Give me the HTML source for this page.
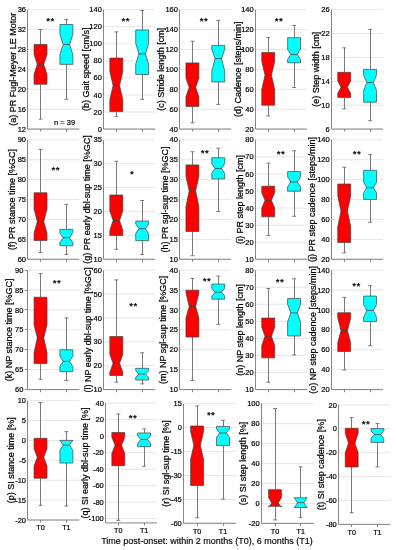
<!DOCTYPE html>
<html><head><meta charset="utf-8"><title>Boxplots</title>
<style>
html,body{margin:0;padding:0;background:#fff;}
body{width:397px;height:550px;overflow:hidden;}
svg{display:block;}
text{font-family:"Liberation Sans",Arial,sans-serif;fill:#000;}
.tk{font-size:7.5px;text-anchor:end;stroke:#000;stroke-width:0.2px;}
.xt{font-size:7.2px;text-anchor:middle;stroke:#000;stroke-width:0.2px;}
.xl{font-size:9px;text-anchor:middle;stroke:#000;stroke-width:0.15px;}
.yl{font-size:9.0px;text-anchor:middle;stroke:#000;stroke-width:0.22px;}
.st{font-size:9.8px;text-anchor:middle;letter-spacing:0.4px;stroke:#000;stroke-width:0.25px;}
.g{stroke:#dedede;stroke-width:0.8;}
.ax{stroke:#787878;stroke-width:0.9;fill:none;}
.w{stroke:#6a6a6a;stroke-width:0.9;}
.m{stroke:#404040;stroke-width:0.75;}
.r{fill:#ff0000;stroke:#404040;stroke-width:0.7;}
.c{fill:#00ffff;stroke:#404040;stroke-width:0.7;}
</style></head><body>
<svg width="397" height="550" viewBox="0 0 397 550">
<line class="g" x1="27.6" y1="129.1" x2="79.3" y2="129.1"/>
<line class="g" x1="27.6" y1="109.18" x2="79.3" y2="109.18"/>
<line class="g" x1="27.6" y1="89.27" x2="79.3" y2="89.27"/>
<line class="g" x1="27.6" y1="69.35" x2="79.3" y2="69.35"/>
<line class="g" x1="27.6" y1="49.43" x2="79.3" y2="49.43"/>
<line class="g" x1="27.6" y1="29.52" x2="79.3" y2="29.52"/>
<line class="g" x1="27.6" y1="9.6" x2="79.3" y2="9.6"/>
<line class="w" x1="40.5" y1="44.45" x2="40.5" y2="29.52"/>
<line class="w" x1="40.5" y1="84.29" x2="40.5" y2="119.14"/>
<line class="w" x1="38.63" y1="29.52" x2="42.43" y2="29.52"/>
<line class="w" x1="38.63" y1="119.14" x2="42.43" y2="119.14"/>
<polygon class="r" points="34.06,84.29 34.06,74.33 37.29,64.37 34.06,54.41 34.06,44.45 46.99,44.45 46.99,54.41 43.76,64.37 46.99,74.33 46.99,84.29"/>
<line class="m" x1="37.29" y1="64.37" x2="43.76" y2="64.37"/>
<line class="w" x1="66.5" y1="24.54" x2="66.5" y2="19.56"/>
<line class="w" x1="66.5" y1="64.37" x2="66.5" y2="99.22"/>
<line class="w" x1="64.47" y1="19.56" x2="68.28" y2="19.56"/>
<line class="w" x1="64.47" y1="99.22" x2="68.28" y2="99.22"/>
<polygon class="c" points="59.91,64.37 59.91,54.41 63.14,44.45 59.91,34.5 59.91,24.54 72.84,24.54 72.84,34.5 69.61,44.45 72.84,54.41 72.84,64.37"/>
<line class="m" x1="63.14" y1="44.45" x2="69.61" y2="44.45"/>
<path class="ax" d="M27.5 9.6V129.1H79.3"/>
<line class="ax" x1="40.5" y1="129.1" x2="40.5" y2="131.7"/>
<line class="ax" x1="66.5" y1="129.1" x2="66.5" y2="131.7"/>
<text class="tk" transform="translate(26 131.7)">12</text>
<text class="tk" transform="translate(26 111.78)">16</text>
<text class="tk" transform="translate(26 91.87)">20</text>
<text class="tk" transform="translate(26 71.95)">24</text>
<text class="tk" transform="translate(26 52.03)">28</text>
<text class="tk" transform="translate(26 32.12)">32</text>
<text class="tk" transform="translate(26 12.2)">36</text>
<text class="yl" transform="translate(15.6,69.35) rotate(-90)">(a) PR Fugl-Meyer LE Motor</text>
<text class="st" x="50.5" y="23.6">**</text>
<text class="tk" transform="translate(54 125.1)" style="text-anchor:start">n = 39</text>
<line class="g" x1="103.4" y1="129.1" x2="155.1" y2="129.1"/>
<line class="g" x1="103.4" y1="112.03" x2="155.1" y2="112.03"/>
<line class="g" x1="103.4" y1="94.96" x2="155.1" y2="94.96"/>
<line class="g" x1="103.4" y1="77.89" x2="155.1" y2="77.89"/>
<line class="g" x1="103.4" y1="60.81" x2="155.1" y2="60.81"/>
<line class="g" x1="103.4" y1="43.74" x2="155.1" y2="43.74"/>
<line class="g" x1="103.4" y1="26.67" x2="155.1" y2="26.67"/>
<line class="g" x1="103.4" y1="9.6" x2="155.1" y2="9.6"/>
<line class="w" x1="116.5" y1="58.08" x2="116.5" y2="31.88"/>
<line class="w" x1="116.5" y1="111.6" x2="116.5" y2="116.38"/>
<line class="w" x1="114.43" y1="31.88" x2="118.23" y2="31.88"/>
<line class="w" x1="114.43" y1="116.38" x2="118.23" y2="116.38"/>
<polygon class="r" points="109.86,111.6 109.86,99.48 113.09,85.57 109.86,71.57 109.86,58.08 122.79,58.08 122.79,71.57 119.56,85.57 122.79,99.48 122.79,111.6"/>
<line class="m" x1="113.09" y1="85.57" x2="119.56" y2="85.57"/>
<line class="w" x1="142.5" y1="29.91" x2="142.5" y2="10.45"/>
<line class="w" x1="142.5" y1="74.47" x2="142.5" y2="99.31"/>
<line class="w" x1="140.28" y1="10.45" x2="144.08" y2="10.45"/>
<line class="w" x1="140.28" y1="99.31" x2="144.08" y2="99.31"/>
<polygon class="c" points="135.71,74.47 135.71,64.14 138.94,53.9 135.71,43.4 135.71,29.91 148.64,29.91 148.64,43.4 145.41,53.9 148.64,64.14 148.64,74.47"/>
<line class="m" x1="138.94" y1="53.9" x2="145.41" y2="53.9"/>
<path class="ax" d="M103.5 9.6V129.1H155.1"/>
<line class="ax" x1="116.5" y1="129.1" x2="116.5" y2="131.7"/>
<line class="ax" x1="142.5" y1="129.1" x2="142.5" y2="131.7"/>
<text class="tk" transform="translate(101.8 131.7)">0</text>
<text class="tk" transform="translate(101.8 114.63)">20</text>
<text class="tk" transform="translate(101.8 97.56)">40</text>
<text class="tk" transform="translate(101.8 80.49)">60</text>
<text class="tk" transform="translate(101.8 63.41)">80</text>
<text class="tk" transform="translate(101.8 46.34)">100</text>
<text class="tk" transform="translate(101.8 29.27)">120</text>
<text class="tk" transform="translate(101.8 12.2)">140</text>
<text class="yl" transform="translate(88.7,69.35) rotate(-90)">(b) Gait speed [cm/s]</text>
<text class="st" x="125.8" y="23.8">**</text>
<line class="g" x1="179.5" y1="129.1" x2="231.2" y2="129.1"/>
<line class="g" x1="179.5" y1="109.18" x2="231.2" y2="109.18"/>
<line class="g" x1="179.5" y1="89.27" x2="231.2" y2="89.27"/>
<line class="g" x1="179.5" y1="69.35" x2="231.2" y2="69.35"/>
<line class="g" x1="179.5" y1="49.43" x2="231.2" y2="49.43"/>
<line class="g" x1="179.5" y1="29.52" x2="231.2" y2="29.52"/>
<line class="g" x1="179.5" y1="9.6" x2="231.2" y2="9.6"/>
<line class="w" x1="192.5" y1="62.88" x2="192.5" y2="41.27"/>
<line class="w" x1="192.5" y1="106.49" x2="192.5" y2="122.73"/>
<line class="w" x1="190.53" y1="41.27" x2="194.33" y2="41.27"/>
<line class="w" x1="190.53" y1="122.73" x2="194.33" y2="122.73"/>
<polygon class="r" points="185.96,106.49 185.96,96.64 189.19,87.37 185.96,78.31 185.96,62.88 198.89,62.88 198.89,78.31 195.66,87.37 198.89,96.64 198.89,106.49"/>
<line class="m" x1="189.19" y1="87.37" x2="195.66" y2="87.37"/>
<line class="w" x1="218.5" y1="45.45" x2="218.5" y2="20.45"/>
<line class="w" x1="218.5" y1="82" x2="218.5" y2="104.4"/>
<line class="w" x1="216.37" y1="20.45" x2="220.17" y2="20.45"/>
<line class="w" x1="216.37" y1="104.4" x2="220.17" y2="104.4"/>
<polygon class="c" points="211.81,82 211.81,71.34 215.04,58.6 211.81,49.43 211.81,45.45 224.74,45.45 224.74,49.43 221.51,58.6 224.74,71.34 224.74,82"/>
<line class="m" x1="215.04" y1="58.6" x2="221.51" y2="58.6"/>
<path class="ax" d="M179.5 9.6V129.1H231.2"/>
<line class="ax" x1="192.5" y1="129.1" x2="192.5" y2="131.7"/>
<line class="ax" x1="218.5" y1="129.1" x2="218.5" y2="131.7"/>
<text class="tk" transform="translate(177.9 131.7)">40</text>
<text class="tk" transform="translate(177.9 111.78)">60</text>
<text class="tk" transform="translate(177.9 91.87)">80</text>
<text class="tk" transform="translate(177.9 71.95)">100</text>
<text class="tk" transform="translate(177.9 52.03)">120</text>
<text class="tk" transform="translate(177.9 32.12)">140</text>
<text class="tk" transform="translate(177.9 12.2)">160</text>
<text class="yl" transform="translate(164.2,69.35) rotate(-90)">(c) Stride length [cm]</text>
<text class="st" x="204" y="24">**</text>
<line class="g" x1="255.3" y1="129.1" x2="307" y2="129.1"/>
<line class="g" x1="255.3" y1="109.18" x2="307" y2="109.18"/>
<line class="g" x1="255.3" y1="89.27" x2="307" y2="89.27"/>
<line class="g" x1="255.3" y1="69.35" x2="307" y2="69.35"/>
<line class="g" x1="255.3" y1="49.43" x2="307" y2="49.43"/>
<line class="g" x1="255.3" y1="29.52" x2="307" y2="29.52"/>
<line class="g" x1="255.3" y1="9.6" x2="307" y2="9.6"/>
<line class="w" x1="268.5" y1="52.62" x2="268.5" y2="37.48"/>
<line class="w" x1="268.5" y1="105.2" x2="268.5" y2="115.86"/>
<line class="w" x1="266.33" y1="37.48" x2="270.12" y2="37.48"/>
<line class="w" x1="266.33" y1="115.86" x2="270.12" y2="115.86"/>
<polygon class="r" points="261.76,105.2 261.76,89.57 264.99,75.32 261.76,61.28 261.76,52.62 274.69,52.62 274.69,61.28 271.46,75.32 274.69,89.57 274.69,105.2"/>
<line class="m" x1="264.99" y1="75.32" x2="271.46" y2="75.32"/>
<line class="w" x1="294.5" y1="37.68" x2="294.5" y2="25.53"/>
<line class="w" x1="294.5" y1="62.78" x2="294.5" y2="87.47"/>
<line class="w" x1="292.18" y1="25.53" x2="295.97" y2="25.53"/>
<line class="w" x1="292.18" y1="87.47" x2="295.97" y2="87.47"/>
<polygon class="c" points="287.61,62.78 287.61,59.39 290.84,54.41 287.61,49.43 287.61,37.68 300.54,37.68 300.54,49.43 297.31,54.41 300.54,59.39 300.54,62.78"/>
<line class="m" x1="290.84" y1="54.41" x2="297.31" y2="54.41"/>
<path class="ax" d="M255.5 9.6V129.1H307"/>
<line class="ax" x1="268.5" y1="129.1" x2="268.5" y2="131.7"/>
<line class="ax" x1="294.5" y1="129.1" x2="294.5" y2="131.7"/>
<text class="tk" transform="translate(253.7 131.7)">20</text>
<text class="tk" transform="translate(253.7 111.78)">40</text>
<text class="tk" transform="translate(253.7 91.87)">60</text>
<text class="tk" transform="translate(253.7 71.95)">80</text>
<text class="tk" transform="translate(253.7 52.03)">100</text>
<text class="tk" transform="translate(253.7 32.12)">120</text>
<text class="tk" transform="translate(253.7 12.2)">140</text>
<text class="yl" transform="translate(240.6,69.35) rotate(-90)">(d) Cadence [steps/min]</text>
<text class="st" x="279" y="23.6">**</text>
<line class="g" x1="331.3" y1="129.1" x2="383" y2="129.1"/>
<line class="g" x1="331.3" y1="105.2" x2="383" y2="105.2"/>
<line class="g" x1="331.3" y1="81.3" x2="383" y2="81.3"/>
<line class="g" x1="331.3" y1="57.4" x2="383" y2="57.4"/>
<line class="g" x1="331.3" y1="33.5" x2="383" y2="33.5"/>
<line class="g" x1="331.3" y1="9.6" x2="383" y2="9.6"/>
<line class="w" x1="344.5" y1="72.34" x2="344.5" y2="47.84"/>
<line class="w" x1="344.5" y1="97.43" x2="344.5" y2="108.79"/>
<line class="w" x1="342.33" y1="47.84" x2="346.12" y2="47.84"/>
<line class="w" x1="342.33" y1="108.79" x2="346.12" y2="108.79"/>
<polygon class="r" points="337.76,97.43 337.76,93.25 340.99,87.27 337.76,81 337.76,72.34 350.69,72.34 350.69,81 347.46,87.27 350.69,93.25 350.69,97.43"/>
<line class="m" x1="340.99" y1="87.27" x2="347.46" y2="87.27"/>
<line class="w" x1="370.5" y1="69.35" x2="370.5" y2="29.32"/>
<line class="w" x1="370.5" y1="102.21" x2="370.5" y2="120.74"/>
<line class="w" x1="368.18" y1="29.32" x2="371.97" y2="29.32"/>
<line class="w" x1="368.18" y1="120.74" x2="371.97" y2="120.74"/>
<polygon class="c" points="363.61,102.21 363.61,90.26 366.84,82.49 363.61,75.32 363.61,69.35 376.54,69.35 376.54,75.32 373.31,82.49 376.54,90.26 376.54,102.21"/>
<line class="m" x1="366.84" y1="82.49" x2="373.31" y2="82.49"/>
<path class="ax" d="M331.5 9.6V129.1H383"/>
<line class="ax" x1="344.5" y1="129.1" x2="344.5" y2="131.7"/>
<line class="ax" x1="370.5" y1="129.1" x2="370.5" y2="131.7"/>
<text class="tk" transform="translate(329.7 131.7)">6</text>
<text class="tk" transform="translate(329.7 107.8)">10</text>
<text class="tk" transform="translate(329.7 83.9)">14</text>
<text class="tk" transform="translate(329.7 60)">18</text>
<text class="tk" transform="translate(329.7 36.1)">22</text>
<text class="tk" transform="translate(329.7 12.2)">26</text>
<text class="yl" transform="translate(318.9,69.35) rotate(-90)">(e) Step width [cm]</text>
<line class="g" x1="27.6" y1="259.3" x2="79.3" y2="259.3"/>
<line class="g" x1="27.6" y1="239.38" x2="79.3" y2="239.38"/>
<line class="g" x1="27.6" y1="219.47" x2="79.3" y2="219.47"/>
<line class="g" x1="27.6" y1="199.55" x2="79.3" y2="199.55"/>
<line class="g" x1="27.6" y1="179.63" x2="79.3" y2="179.63"/>
<line class="g" x1="27.6" y1="159.72" x2="79.3" y2="159.72"/>
<line class="g" x1="27.6" y1="139.8" x2="79.3" y2="139.8"/>
<line class="w" x1="40.5" y1="192.78" x2="40.5" y2="149.36"/>
<line class="w" x1="40.5" y1="240.58" x2="40.5" y2="252.53"/>
<line class="w" x1="38.63" y1="149.36" x2="42.43" y2="149.36"/>
<line class="w" x1="38.63" y1="252.53" x2="42.43" y2="252.53"/>
<polygon class="r" points="34.06,240.58 34.06,233.01 37.29,221.46 34.06,209.11 34.06,192.78 46.99,192.78 46.99,209.11 43.76,221.46 46.99,233.01 46.99,240.58"/>
<line class="m" x1="37.29" y1="221.46" x2="43.76" y2="221.46"/>
<line class="w" x1="66.5" y1="229.43" x2="66.5" y2="204.33"/>
<line class="w" x1="66.5" y1="245.76" x2="66.5" y2="254.52"/>
<line class="w" x1="64.47" y1="204.33" x2="68.28" y2="204.33"/>
<line class="w" x1="64.47" y1="254.52" x2="68.28" y2="254.52"/>
<polygon class="c" points="59.91,245.76 59.91,242.57 63.14,237.79 59.91,232.61 59.91,229.43 72.84,229.43 72.84,232.61 69.61,237.79 72.84,242.57 72.84,245.76"/>
<line class="m" x1="63.14" y1="237.79" x2="69.61" y2="237.79"/>
<path class="ax" d="M27.5 139.8V259.3H79.3"/>
<line class="ax" x1="40.5" y1="259.3" x2="40.5" y2="261.9"/>
<line class="ax" x1="66.5" y1="259.3" x2="66.5" y2="261.9"/>
<text class="tk" transform="translate(26 261.9)">60</text>
<text class="tk" transform="translate(26 241.98)">65</text>
<text class="tk" transform="translate(26 222.07)">70</text>
<text class="tk" transform="translate(26 202.15)">75</text>
<text class="tk" transform="translate(26 182.23)">80</text>
<text class="tk" transform="translate(26 162.32)">85</text>
<text class="tk" transform="translate(26 142.4)">90</text>
<text class="yl" transform="translate(15,199.55) rotate(-90)">(f) PR stance time [%GC]</text>
<text class="st" x="55.7" y="173.1">**</text>
<line class="g" x1="103.4" y1="259.3" x2="155.1" y2="259.3"/>
<line class="g" x1="103.4" y1="235.4" x2="155.1" y2="235.4"/>
<line class="g" x1="103.4" y1="211.5" x2="155.1" y2="211.5"/>
<line class="g" x1="103.4" y1="187.6" x2="155.1" y2="187.6"/>
<line class="g" x1="103.4" y1="163.7" x2="155.1" y2="163.7"/>
<line class="g" x1="103.4" y1="139.8" x2="155.1" y2="139.8"/>
<line class="w" x1="116.5" y1="195.01" x2="116.5" y2="161.31"/>
<line class="w" x1="116.5" y1="235.4" x2="116.5" y2="249.26"/>
<line class="w" x1="114.43" y1="161.31" x2="118.23" y2="161.31"/>
<line class="w" x1="114.43" y1="249.26" x2="118.23" y2="249.26"/>
<polygon class="r" points="109.86,235.4 109.86,230.14 113.09,220.58 109.86,211.02 109.86,195.01 122.79,195.01 122.79,211.02 119.56,220.58 122.79,230.14 122.79,235.4"/>
<line class="m" x1="113.09" y1="220.58" x2="119.56" y2="220.58"/>
<line class="w" x1="142.5" y1="221.06" x2="142.5" y2="200.51"/>
<line class="w" x1="142.5" y1="240.66" x2="142.5" y2="254.52"/>
<line class="w" x1="140.28" y1="200.51" x2="144.08" y2="200.51"/>
<line class="w" x1="140.28" y1="254.52" x2="144.08" y2="254.52"/>
<polygon class="c" points="135.71,240.66 135.71,233.49 138.94,228.71 135.71,223.93 135.71,221.06 148.64,221.06 148.64,223.93 145.41,228.71 148.64,233.49 148.64,240.66"/>
<line class="m" x1="138.94" y1="228.71" x2="145.41" y2="228.71"/>
<path class="ax" d="M103.5 139.8V259.3H155.1"/>
<line class="ax" x1="116.5" y1="259.3" x2="116.5" y2="261.9"/>
<line class="ax" x1="142.5" y1="259.3" x2="142.5" y2="261.9"/>
<text class="tk" transform="translate(101.8 261.9)">10</text>
<text class="tk" transform="translate(101.8 238)">15</text>
<text class="tk" transform="translate(101.8 214.1)">20</text>
<text class="tk" transform="translate(101.8 190.2)">25</text>
<text class="tk" transform="translate(101.8 166.3)">30</text>
<text class="tk" transform="translate(101.8 142.4)">35</text>
<text class="yl" transform="translate(90.2,199.55) rotate(-90)">(g) PR early dbl-sup time [%GC]</text>
<text class="st" x="132" y="177">*</text>
<line class="g" x1="179.5" y1="259.3" x2="231.2" y2="259.3"/>
<line class="g" x1="179.5" y1="239.38" x2="231.2" y2="239.38"/>
<line class="g" x1="179.5" y1="219.47" x2="231.2" y2="219.47"/>
<line class="g" x1="179.5" y1="199.55" x2="231.2" y2="199.55"/>
<line class="g" x1="179.5" y1="179.63" x2="231.2" y2="179.63"/>
<line class="g" x1="179.5" y1="159.72" x2="231.2" y2="159.72"/>
<line class="g" x1="179.5" y1="139.8" x2="231.2" y2="139.8"/>
<line class="w" x1="192.5" y1="164.9" x2="192.5" y2="151.75"/>
<line class="w" x1="192.5" y1="231.42" x2="192.5" y2="255.72"/>
<line class="w" x1="190.53" y1="151.75" x2="194.33" y2="151.75"/>
<line class="w" x1="190.53" y1="255.72" x2="194.33" y2="255.72"/>
<polygon class="r" points="185.96,231.42 185.96,206.72 189.19,190.79 185.96,176.45 185.96,164.9 198.89,164.9 198.89,176.45 195.66,190.79 198.89,206.72 198.89,231.42"/>
<line class="m" x1="189.19" y1="190.79" x2="195.66" y2="190.79"/>
<line class="w" x1="218.5" y1="157.73" x2="218.5" y2="148.17"/>
<line class="w" x1="218.5" y1="178.84" x2="218.5" y2="211.5"/>
<line class="w" x1="216.37" y1="148.17" x2="220.17" y2="148.17"/>
<line class="w" x1="216.37" y1="211.5" x2="220.17" y2="211.5"/>
<polygon class="c" points="211.81,178.84 211.81,173.26 215.04,168.48 211.81,163.7 211.81,157.73 224.74,157.73 224.74,163.7 221.51,168.48 224.74,173.26 224.74,178.84"/>
<line class="m" x1="215.04" y1="168.48" x2="221.51" y2="168.48"/>
<path class="ax" d="M179.5 139.8V259.3H231.2"/>
<line class="ax" x1="192.5" y1="259.3" x2="192.5" y2="261.9"/>
<line class="ax" x1="218.5" y1="259.3" x2="218.5" y2="261.9"/>
<text class="tk" transform="translate(177.9 261.9)">10</text>
<text class="tk" transform="translate(177.9 241.98)">15</text>
<text class="tk" transform="translate(177.9 222.07)">20</text>
<text class="tk" transform="translate(177.9 202.15)">25</text>
<text class="tk" transform="translate(177.9 182.23)">30</text>
<text class="tk" transform="translate(177.9 162.32)">35</text>
<text class="tk" transform="translate(177.9 142.4)">40</text>
<text class="yl" transform="translate(167.8,199.55) rotate(-90)">(h) PR sgl-sup time [%GC]</text>
<text class="st" x="205" y="156.1">**</text>
<line class="g" x1="255.3" y1="259.3" x2="307" y2="259.3"/>
<line class="g" x1="255.3" y1="242.23" x2="307" y2="242.23"/>
<line class="g" x1="255.3" y1="225.16" x2="307" y2="225.16"/>
<line class="g" x1="255.3" y1="208.09" x2="307" y2="208.09"/>
<line class="g" x1="255.3" y1="191.01" x2="307" y2="191.01"/>
<line class="g" x1="255.3" y1="173.94" x2="307" y2="173.94"/>
<line class="g" x1="255.3" y1="156.87" x2="307" y2="156.87"/>
<line class="g" x1="255.3" y1="139.8" x2="307" y2="139.8"/>
<line class="w" x1="268.5" y1="186.23" x2="268.5" y2="163.19"/>
<line class="w" x1="268.5" y1="216.79" x2="268.5" y2="235.57"/>
<line class="w" x1="266.33" y1="163.19" x2="270.12" y2="163.19"/>
<line class="w" x1="266.33" y1="235.57" x2="270.12" y2="235.57"/>
<polygon class="r" points="261.76,216.79 261.76,208.09 264.99,200.4 261.76,192.72 261.76,186.23 274.69,186.23 274.69,192.72 271.46,200.4 274.69,208.09 274.69,216.79"/>
<line class="m" x1="264.99" y1="200.4" x2="271.46" y2="200.4"/>
<line class="w" x1="294.5" y1="171.55" x2="294.5" y2="150.73"/>
<line class="w" x1="294.5" y1="191.19" x2="294.5" y2="216.28"/>
<line class="w" x1="292.18" y1="150.73" x2="295.97" y2="150.73"/>
<line class="w" x1="292.18" y1="216.28" x2="295.97" y2="216.28"/>
<polygon class="c" points="287.61,191.19 287.61,186.75 290.84,181.97 287.61,177.02 287.61,171.55 300.54,171.55 300.54,177.02 297.31,181.97 300.54,186.75 300.54,191.19"/>
<line class="m" x1="290.84" y1="181.97" x2="297.31" y2="181.97"/>
<path class="ax" d="M255.5 139.8V259.3H307"/>
<line class="ax" x1="268.5" y1="259.3" x2="268.5" y2="261.9"/>
<line class="ax" x1="294.5" y1="259.3" x2="294.5" y2="261.9"/>
<text class="tk" transform="translate(253.7 261.9)">10</text>
<text class="tk" transform="translate(253.7 244.83)">20</text>
<text class="tk" transform="translate(253.7 227.76)">30</text>
<text class="tk" transform="translate(253.7 210.69)">40</text>
<text class="tk" transform="translate(253.7 193.61)">50</text>
<text class="tk" transform="translate(253.7 176.54)">60</text>
<text class="tk" transform="translate(253.7 159.47)">70</text>
<text class="tk" transform="translate(253.7 142.4)">80</text>
<text class="yl" transform="translate(243.3,199.55) rotate(-90)">(i) PR step length [cm]</text>
<text class="st" x="281" y="156.8">**</text>
<line class="g" x1="331.3" y1="259.3" x2="383" y2="259.3"/>
<line class="g" x1="331.3" y1="239.38" x2="383" y2="239.38"/>
<line class="g" x1="331.3" y1="219.47" x2="383" y2="219.47"/>
<line class="g" x1="331.3" y1="199.55" x2="383" y2="199.55"/>
<line class="g" x1="331.3" y1="179.63" x2="383" y2="179.63"/>
<line class="g" x1="331.3" y1="159.72" x2="383" y2="159.72"/>
<line class="g" x1="331.3" y1="139.8" x2="383" y2="139.8"/>
<line class="w" x1="344.5" y1="184.02" x2="344.5" y2="167.28"/>
<line class="w" x1="344.5" y1="242.47" x2="344.5" y2="252.83"/>
<line class="w" x1="342.33" y1="167.28" x2="346.12" y2="167.28"/>
<line class="w" x1="342.33" y1="252.83" x2="346.12" y2="252.83"/>
<polygon class="r" points="337.76,242.47 337.76,226.64 340.99,211.2 337.76,195.77 337.76,184.02 350.69,184.02 350.69,195.77 347.46,211.2 350.69,226.64 350.69,242.47"/>
<line class="m" x1="340.99" y1="211.2" x2="347.46" y2="211.2"/>
<line class="w" x1="370.5" y1="170.27" x2="370.5" y2="154.64"/>
<line class="w" x1="370.5" y1="199.45" x2="370.5" y2="222.25"/>
<line class="w" x1="368.18" y1="154.64" x2="371.97" y2="154.64"/>
<line class="w" x1="368.18" y1="222.25" x2="371.97" y2="222.25"/>
<polygon class="c" points="363.61,199.45 363.61,192.68 366.84,187.7 363.61,182.32 363.61,170.27 376.54,170.27 376.54,182.32 373.31,187.7 376.54,192.68 376.54,199.45"/>
<line class="m" x1="366.84" y1="187.7" x2="373.31" y2="187.7"/>
<path class="ax" d="M331.5 139.8V259.3H383"/>
<line class="ax" x1="344.5" y1="259.3" x2="344.5" y2="261.9"/>
<line class="ax" x1="370.5" y1="259.3" x2="370.5" y2="261.9"/>
<text class="tk" transform="translate(329.7 261.9)">20</text>
<text class="tk" transform="translate(329.7 241.98)">40</text>
<text class="tk" transform="translate(329.7 222.07)">60</text>
<text class="tk" transform="translate(329.7 202.15)">80</text>
<text class="tk" transform="translate(329.7 182.23)">100</text>
<text class="tk" transform="translate(329.7 162.32)">120</text>
<text class="tk" transform="translate(329.7 142.4)">140</text>
<text class="yl" transform="translate(315,199.55) rotate(-90)">(j) PR step cadence [steps/min]</text>
<text class="st" x="357" y="156.6">**</text>
<line class="g" x1="27.6" y1="389.6" x2="79.3" y2="389.6"/>
<line class="g" x1="27.6" y1="369.68" x2="79.3" y2="369.68"/>
<line class="g" x1="27.6" y1="349.77" x2="79.3" y2="349.77"/>
<line class="g" x1="27.6" y1="329.85" x2="79.3" y2="329.85"/>
<line class="g" x1="27.6" y1="309.93" x2="79.3" y2="309.93"/>
<line class="g" x1="27.6" y1="290.02" x2="79.3" y2="290.02"/>
<line class="g" x1="27.6" y1="270.1" x2="79.3" y2="270.1"/>
<line class="w" x1="40.5" y1="297.19" x2="40.5" y2="273.69"/>
<line class="w" x1="40.5" y1="363.51" x2="40.5" y2="379.24"/>
<line class="w" x1="38.63" y1="273.69" x2="42.43" y2="273.69"/>
<line class="w" x1="38.63" y1="379.24" x2="42.43" y2="379.24"/>
<polygon class="r" points="34.06,363.51 34.06,352.56 37.29,337.82 34.06,324.67 34.06,297.19 46.99,297.19 46.99,324.67 43.76,337.82 46.99,352.56 46.99,363.51"/>
<line class="m" x1="37.29" y1="337.82" x2="43.76" y2="337.82"/>
<line class="w" x1="66.5" y1="349.77" x2="66.5" y2="317.9"/>
<line class="w" x1="66.5" y1="371.68" x2="66.5" y2="380.44"/>
<line class="w" x1="64.47" y1="317.9" x2="68.28" y2="317.9"/>
<line class="w" x1="64.47" y1="380.44" x2="68.28" y2="380.44"/>
<polygon class="c" points="59.91,371.68 59.91,366.5 63.14,361.32 59.91,356.14 59.91,349.77 72.84,349.77 72.84,356.14 69.61,361.32 72.84,366.5 72.84,371.68"/>
<line class="m" x1="63.14" y1="361.32" x2="69.61" y2="361.32"/>
<path class="ax" d="M27.5 270.1V389.6H79.3"/>
<line class="ax" x1="40.5" y1="389.6" x2="40.5" y2="392.2"/>
<line class="ax" x1="66.5" y1="389.6" x2="66.5" y2="392.2"/>
<line class="ax" x1="24.7" y1="389.5" x2="27.2" y2="389.5"/>
<line class="ax" x1="24.7" y1="369.5" x2="27.2" y2="369.5"/>
<line class="ax" x1="24.7" y1="349.5" x2="27.2" y2="349.5"/>
<line class="ax" x1="24.7" y1="329.5" x2="27.2" y2="329.5"/>
<line class="ax" x1="24.7" y1="309.5" x2="27.2" y2="309.5"/>
<line class="ax" x1="24.7" y1="290.5" x2="27.2" y2="290.5"/>
<line class="ax" x1="24.7" y1="270.5" x2="27.2" y2="270.5"/>
<text class="tk" transform="translate(23.4 392.2)">60</text>
<text class="tk" transform="translate(23.4 372.28)">65</text>
<text class="tk" transform="translate(23.4 352.37)">70</text>
<text class="tk" transform="translate(23.4 332.45)">75</text>
<text class="tk" transform="translate(23.4 312.53)">80</text>
<text class="tk" transform="translate(23.4 292.62)">85</text>
<text class="tk" transform="translate(23.4 272.7)">90</text>
<text class="yl" transform="translate(12.4,329.85) rotate(-90)">(k) NP stance time [%GC]</text>
<text class="st" x="56.9" y="286.1">**</text>
<line class="g" x1="103.4" y1="389.6" x2="155.1" y2="389.6"/>
<line class="g" x1="103.4" y1="365.7" x2="155.1" y2="365.7"/>
<line class="g" x1="103.4" y1="341.8" x2="155.1" y2="341.8"/>
<line class="g" x1="103.4" y1="317.9" x2="155.1" y2="317.9"/>
<line class="g" x1="103.4" y1="294" x2="155.1" y2="294"/>
<line class="g" x1="103.4" y1="270.1" x2="155.1" y2="270.1"/>
<line class="w" x1="116.5" y1="336.54" x2="116.5" y2="279.9"/>
<line class="w" x1="116.5" y1="375.5" x2="116.5" y2="382.19"/>
<line class="w" x1="114.43" y1="279.9" x2="118.23" y2="279.9"/>
<line class="w" x1="114.43" y1="382.19" x2="118.23" y2="382.19"/>
<polygon class="r" points="109.86,375.5 109.86,372.15 113.09,363.31 109.86,354.47 109.86,336.54 122.79,336.54 122.79,354.47 119.56,363.31 122.79,372.15 122.79,375.5"/>
<line class="m" x1="113.09" y1="363.31" x2="119.56" y2="363.31"/>
<line class="w" x1="142.5" y1="368.33" x2="142.5" y2="352.79"/>
<line class="w" x1="142.5" y1="380.04" x2="142.5" y2="383.86"/>
<line class="w" x1="140.28" y1="352.79" x2="144.08" y2="352.79"/>
<line class="w" x1="140.28" y1="383.86" x2="144.08" y2="383.86"/>
<polygon class="c" points="135.71,380.04 135.71,377.17 138.94,374.07 135.71,370.72 135.71,368.33 148.64,368.33 148.64,370.72 145.41,374.07 148.64,377.17 148.64,380.04"/>
<line class="m" x1="138.94" y1="374.07" x2="145.41" y2="374.07"/>
<path class="ax" d="M103.5 270.1V389.6H155.1"/>
<line class="ax" x1="116.5" y1="389.6" x2="116.5" y2="392.2"/>
<line class="ax" x1="142.5" y1="389.6" x2="142.5" y2="392.2"/>
<text class="tk" transform="translate(101.8 392.2)">10</text>
<text class="tk" transform="translate(101.8 368.3)">20</text>
<text class="tk" transform="translate(101.8 344.4)">30</text>
<text class="tk" transform="translate(101.8 320.5)">40</text>
<text class="tk" transform="translate(101.8 296.6)">50</text>
<text class="tk" transform="translate(101.8 272.7)">60</text>
<text class="yl" transform="translate(90.8,329.85) rotate(-90)">(l) NP early dbl-sup time [%GC]</text>
<text class="st" x="133.5" y="309.1">**</text>
<line class="g" x1="179.5" y1="389.6" x2="231.2" y2="389.6"/>
<line class="g" x1="179.5" y1="369.68" x2="231.2" y2="369.68"/>
<line class="g" x1="179.5" y1="349.77" x2="231.2" y2="349.77"/>
<line class="g" x1="179.5" y1="329.85" x2="231.2" y2="329.85"/>
<line class="g" x1="179.5" y1="309.93" x2="231.2" y2="309.93"/>
<line class="g" x1="179.5" y1="290.02" x2="231.2" y2="290.02"/>
<line class="g" x1="179.5" y1="270.1" x2="231.2" y2="270.1"/>
<line class="w" x1="192.5" y1="290.22" x2="192.5" y2="278.47"/>
<line class="w" x1="192.5" y1="337.02" x2="192.5" y2="380.44"/>
<line class="w" x1="190.53" y1="278.47" x2="194.33" y2="278.47"/>
<line class="w" x1="190.53" y1="380.44" x2="194.33" y2="380.44"/>
<polygon class="r" points="185.96,337.02 185.96,317.7 189.19,306.55 185.96,292.81 185.96,290.22 198.89,290.22 198.89,292.81 195.66,306.55 198.89,317.7 198.89,337.02"/>
<line class="m" x1="189.19" y1="306.55" x2="195.66" y2="306.55"/>
<line class="w" x1="218.5" y1="284.04" x2="218.5" y2="276.08"/>
<line class="w" x1="218.5" y1="299.18" x2="218.5" y2="324.27"/>
<line class="w" x1="216.37" y1="276.08" x2="220.17" y2="276.08"/>
<line class="w" x1="216.37" y1="324.27" x2="220.17" y2="324.27"/>
<polygon class="c" points="211.81,299.18 211.81,295.99 215.04,292.21 211.81,288.42 211.81,284.04 224.74,284.04 224.74,288.42 221.51,292.21 224.74,295.99 224.74,299.18"/>
<line class="m" x1="215.04" y1="292.21" x2="221.51" y2="292.21"/>
<path class="ax" d="M179.5 270.1V389.6H231.2"/>
<line class="ax" x1="192.5" y1="389.6" x2="192.5" y2="392.2"/>
<line class="ax" x1="218.5" y1="389.6" x2="218.5" y2="392.2"/>
<text class="tk" transform="translate(177.9 392.2)">10</text>
<text class="tk" transform="translate(177.9 372.28)">15</text>
<text class="tk" transform="translate(177.9 352.37)">20</text>
<text class="tk" transform="translate(177.9 332.45)">25</text>
<text class="tk" transform="translate(177.9 312.53)">30</text>
<text class="tk" transform="translate(177.9 292.62)">35</text>
<text class="tk" transform="translate(177.9 272.7)">40</text>
<text class="yl" transform="translate(166.3,329.85) rotate(-90)">(m) NP sgl-sup time [%GC]</text>
<text class="st" x="207" y="283.8">**</text>
<line class="g" x1="255.3" y1="389.6" x2="307" y2="389.6"/>
<line class="g" x1="255.3" y1="372.53" x2="307" y2="372.53"/>
<line class="g" x1="255.3" y1="355.46" x2="307" y2="355.46"/>
<line class="g" x1="255.3" y1="338.39" x2="307" y2="338.39"/>
<line class="g" x1="255.3" y1="321.31" x2="307" y2="321.31"/>
<line class="g" x1="255.3" y1="304.24" x2="307" y2="304.24"/>
<line class="g" x1="255.3" y1="287.17" x2="307" y2="287.17"/>
<line class="g" x1="255.3" y1="270.1" x2="307" y2="270.1"/>
<line class="w" x1="268.5" y1="318.07" x2="268.5" y2="288.54"/>
<line class="w" x1="268.5" y1="357.85" x2="268.5" y2="382.26"/>
<line class="w" x1="266.33" y1="288.54" x2="270.12" y2="288.54"/>
<line class="w" x1="266.33" y1="382.26" x2="270.12" y2="382.26"/>
<polygon class="r" points="261.76,357.85 261.76,345.56 264.99,336.34 261.76,327.29 261.76,318.07 274.69,318.07 274.69,327.29 271.46,336.34 274.69,345.56 274.69,357.85"/>
<line class="m" x1="264.99" y1="336.34" x2="271.46" y2="336.34"/>
<line class="w" x1="294.5" y1="298.44" x2="294.5" y2="278.81"/>
<line class="w" x1="294.5" y1="336" x2="294.5" y2="354.95"/>
<line class="w" x1="292.18" y1="278.81" x2="295.97" y2="278.81"/>
<line class="w" x1="292.18" y1="354.95" x2="295.97" y2="354.95"/>
<polygon class="c" points="287.61,336 287.61,321.83 290.84,312.95 287.61,304.24 287.61,298.44 300.54,298.44 300.54,304.24 297.31,312.95 300.54,321.83 300.54,336"/>
<line class="m" x1="290.84" y1="312.95" x2="297.31" y2="312.95"/>
<path class="ax" d="M255.5 270.1V389.6H307"/>
<line class="ax" x1="268.5" y1="389.6" x2="268.5" y2="392.2"/>
<line class="ax" x1="294.5" y1="389.6" x2="294.5" y2="392.2"/>
<text class="tk" transform="translate(253.7 392.2)">10</text>
<text class="tk" transform="translate(253.7 375.13)">20</text>
<text class="tk" transform="translate(253.7 358.06)">30</text>
<text class="tk" transform="translate(253.7 340.99)">40</text>
<text class="tk" transform="translate(253.7 323.91)">50</text>
<text class="tk" transform="translate(253.7 306.84)">60</text>
<text class="tk" transform="translate(253.7 289.77)">70</text>
<text class="tk" transform="translate(253.7 272.7)">80</text>
<text class="yl" transform="translate(242.8,329.85) rotate(-90)">(n) NP step length [cm]</text>
<text class="st" x="280" y="285.4">**</text>
<line class="g" x1="331.3" y1="389.6" x2="383" y2="389.6"/>
<line class="g" x1="331.3" y1="369.68" x2="383" y2="369.68"/>
<line class="g" x1="331.3" y1="349.77" x2="383" y2="349.77"/>
<line class="g" x1="331.3" y1="329.85" x2="383" y2="329.85"/>
<line class="g" x1="331.3" y1="309.93" x2="383" y2="309.93"/>
<line class="g" x1="331.3" y1="290.02" x2="383" y2="290.02"/>
<line class="g" x1="331.3" y1="270.1" x2="383" y2="270.1"/>
<line class="w" x1="344.5" y1="312.72" x2="344.5" y2="297.39"/>
<line class="w" x1="344.5" y1="351.46" x2="344.5" y2="369.98"/>
<line class="w" x1="342.33" y1="297.39" x2="346.12" y2="297.39"/>
<line class="w" x1="342.33" y1="369.98" x2="346.12" y2="369.98"/>
<polygon class="r" points="337.76,351.46 337.76,342.8 340.99,330.55 337.76,317.9 337.76,312.72 350.69,312.72 350.69,317.9 347.46,330.55 350.69,342.8 350.69,351.46"/>
<line class="m" x1="340.99" y1="330.55" x2="347.46" y2="330.55"/>
<line class="w" x1="370.5" y1="296.09" x2="370.5" y2="285.73"/>
<line class="w" x1="370.5" y1="321.58" x2="370.5" y2="345.78"/>
<line class="w" x1="368.18" y1="285.73" x2="371.97" y2="285.73"/>
<line class="w" x1="368.18" y1="345.78" x2="371.97" y2="345.78"/>
<polygon class="c" points="363.61,321.58 363.61,317.4 366.84,310.43 363.61,304.56 363.61,296.09 376.54,296.09 376.54,304.56 373.31,310.43 376.54,317.4 376.54,321.58"/>
<line class="m" x1="366.84" y1="310.43" x2="373.31" y2="310.43"/>
<path class="ax" d="M331.5 270.1V389.6H383"/>
<line class="ax" x1="344.5" y1="389.6" x2="344.5" y2="392.2"/>
<line class="ax" x1="370.5" y1="389.6" x2="370.5" y2="392.2"/>
<text class="tk" transform="translate(329.7 392.2)">20</text>
<text class="tk" transform="translate(329.7 372.28)">40</text>
<text class="tk" transform="translate(329.7 352.37)">60</text>
<text class="tk" transform="translate(329.7 332.45)">80</text>
<text class="tk" transform="translate(329.7 312.53)">100</text>
<text class="tk" transform="translate(329.7 292.62)">120</text>
<text class="tk" transform="translate(329.7 272.7)">140</text>
<text class="yl" transform="translate(316.3,329.85) rotate(-90)">(o) NP step cadence [steps/min]</text>
<text class="st" x="356.5" y="289.1">**</text>
<line class="g" x1="27.6" y1="520" x2="79.3" y2="520"/>
<line class="g" x1="27.6" y1="500.1" x2="79.3" y2="500.1"/>
<line class="g" x1="27.6" y1="480.2" x2="79.3" y2="480.2"/>
<line class="g" x1="27.6" y1="460.3" x2="79.3" y2="460.3"/>
<line class="g" x1="27.6" y1="440.4" x2="79.3" y2="440.4"/>
<line class="g" x1="27.6" y1="420.5" x2="79.3" y2="420.5"/>
<line class="g" x1="27.6" y1="400.6" x2="79.3" y2="400.6"/>
<line class="w" x1="40.5" y1="438.29" x2="40.5" y2="402.59"/>
<line class="w" x1="40.5" y1="478.21" x2="40.5" y2="505.27"/>
<line class="w" x1="38.62" y1="402.59" x2="42.42" y2="402.59"/>
<line class="w" x1="38.62" y1="505.27" x2="42.42" y2="505.27"/>
<polygon class="r" points="34.06,478.21 34.06,465.87 37.29,457.31 34.06,448.76 34.06,438.29 46.99,438.29 46.99,448.76 43.76,457.31 46.99,465.87 46.99,478.21"/>
<line class="m" x1="37.29" y1="457.31" x2="43.76" y2="457.31"/>
<line class="w" x1="66.5" y1="440.4" x2="66.5" y2="431.64"/>
<line class="w" x1="66.5" y1="463.09" x2="66.5" y2="506.07"/>
<line class="w" x1="64.47" y1="431.64" x2="68.28" y2="431.64"/>
<line class="w" x1="64.47" y1="506.07" x2="68.28" y2="506.07"/>
<polygon class="c" points="59.91,463.09 59.91,450.35 63.14,445.18 59.91,440 59.91,440.4 72.84,440.4 72.84,440 69.61,445.18 72.84,450.35 72.84,463.09"/>
<line class="m" x1="63.14" y1="445.18" x2="69.61" y2="445.18"/>
<path class="ax" d="M27.5 400.6V520H79.3"/>
<line class="ax" x1="40.5" y1="520" x2="40.5" y2="522.6"/>
<line class="ax" x1="66.5" y1="520" x2="66.5" y2="522.6"/>
<text class="tk" transform="translate(26 522.6)">-20</text>
<text class="tk" transform="translate(26 502.7)">-15</text>
<text class="tk" transform="translate(26 482.8)">-10</text>
<text class="tk" transform="translate(26 462.9)">-5</text>
<text class="tk" transform="translate(26 443)">0</text>
<text class="tk" transform="translate(26 423.1)">5</text>
<text class="tk" transform="translate(26 403.2)">10</text>
<text class="yl" transform="translate(13.8,460.3) rotate(-90)">(p) SI stance time [%]</text>
<text class="xt" x="40.52" y="530.3">T0</text>
<text class="xt" x="66.38" y="530.3">T1</text>
<line class="g" x1="105.4" y1="518.61" x2="157" y2="518.61"/>
<line class="g" x1="105.4" y1="502.11" x2="157" y2="502.11"/>
<line class="g" x1="105.4" y1="485.61" x2="157" y2="485.61"/>
<line class="g" x1="105.4" y1="469.11" x2="157" y2="469.11"/>
<line class="g" x1="105.4" y1="452.6" x2="157" y2="452.6"/>
<line class="g" x1="105.4" y1="436.1" x2="157" y2="436.1"/>
<line class="g" x1="105.4" y1="419.6" x2="157" y2="419.6"/>
<line class="g" x1="105.4" y1="403.1" x2="157" y2="403.1"/>
<line class="w" x1="118.5" y1="432.47" x2="118.5" y2="413.91"/>
<line class="w" x1="118.5" y1="465.72" x2="118.5" y2="520.34"/>
<line class="w" x1="116.4" y1="413.91" x2="120.2" y2="413.91"/>
<line class="w" x1="116.4" y1="520.34" x2="120.2" y2="520.34"/>
<polygon class="r" points="111.85,465.72 111.85,453.43 115.08,445.34 111.85,437.34 111.85,432.47 124.75,432.47 124.75,437.34 121.53,445.34 124.75,453.43 124.75,465.72"/>
<line class="m" x1="115.08" y1="445.34" x2="121.53" y2="445.34"/>
<line class="w" x1="144.5" y1="432.97" x2="144.5" y2="428.92"/>
<line class="w" x1="144.5" y1="446.66" x2="144.5" y2="466.3"/>
<line class="w" x1="142.2" y1="428.92" x2="146" y2="428.92"/>
<line class="w" x1="142.2" y1="466.3" x2="146" y2="466.3"/>
<polygon class="c" points="137.65,446.66 137.65,443.28 140.88,439.49 137.65,435.69 137.65,432.97 150.55,432.97 150.55,435.69 147.32,439.49 150.55,443.28 150.55,446.66"/>
<line class="m" x1="140.88" y1="439.49" x2="147.32" y2="439.49"/>
<path class="ax" d="M105.5 403.1V522.9H157"/>
<line class="ax" x1="118.5" y1="522.9" x2="118.5" y2="525.5"/>
<line class="ax" x1="144.5" y1="522.9" x2="144.5" y2="525.5"/>
<text class="tk" transform="translate(103.8 521.21)">-100</text>
<text class="tk" transform="translate(103.8 504.71)">-80</text>
<text class="tk" transform="translate(103.8 488.21)">-60</text>
<text class="tk" transform="translate(103.8 471.71)">-40</text>
<text class="tk" transform="translate(103.8 455.2)">-20</text>
<text class="tk" transform="translate(103.8 438.7)">0</text>
<text class="tk" transform="translate(103.8 422.2)">20</text>
<text class="tk" transform="translate(103.8 405.7)">40</text>
<text class="yl" transform="translate(88.3,463) rotate(-90)">(q) SI early dbl-sup time [%]</text>
<text class="st" x="133" y="420.6">**</text>
<text class="xt" x="118.3" y="533.2">T0</text>
<text class="xt" x="144.1" y="533.2">T1</text>
<line class="g" x1="183.4" y1="523.3" x2="236.2" y2="523.3"/>
<line class="g" x1="183.4" y1="499.38" x2="236.2" y2="499.38"/>
<line class="g" x1="183.4" y1="475.46" x2="236.2" y2="475.46"/>
<line class="g" x1="183.4" y1="451.54" x2="236.2" y2="451.54"/>
<line class="g" x1="183.4" y1="427.62" x2="236.2" y2="427.62"/>
<line class="g" x1="183.4" y1="403.7" x2="236.2" y2="403.7"/>
<line class="w" x1="197.5" y1="426.03" x2="197.5" y2="405.93"/>
<line class="w" x1="197.5" y1="485.51" x2="197.5" y2="517.72"/>
<line class="w" x1="195.2" y1="405.93" x2="199" y2="405.93"/>
<line class="w" x1="195.2" y1="517.72" x2="199" y2="517.72"/>
<polygon class="r" points="190.62,485.51 190.62,459.35 193.86,445.32 190.62,431.61 190.62,426.03 203.57,426.03 203.57,431.61 200.34,445.32 203.57,459.35 203.57,485.51"/>
<line class="m" x1="193.86" y1="445.32" x2="200.34" y2="445.32"/>
<line class="w" x1="223.5" y1="426.41" x2="223.5" y2="420.28"/>
<line class="w" x1="223.5" y1="445.64" x2="223.5" y2="499.22"/>
<line class="w" x1="221.1" y1="420.28" x2="224.9" y2="420.28"/>
<line class="w" x1="221.1" y1="499.22" x2="224.9" y2="499.22"/>
<polygon class="c" points="216.53,445.64 216.53,437.19 219.76,433.04 216.53,428.9 216.53,426.41 229.47,426.41 229.47,428.9 226.24,433.04 229.47,437.19 229.47,445.64"/>
<line class="m" x1="219.76" y1="433.04" x2="226.24" y2="433.04"/>
<path class="ax" d="M183.5 403.7V523.3H236.2"/>
<line class="ax" x1="197.5" y1="523.3" x2="197.5" y2="525.9"/>
<line class="ax" x1="223.5" y1="523.3" x2="223.5" y2="525.9"/>
<text class="tk" transform="translate(181.8 525.9)">-60</text>
<text class="tk" transform="translate(181.8 501.98)">-45</text>
<text class="tk" transform="translate(181.8 478.06)">-30</text>
<text class="tk" transform="translate(181.8 454.14)">-15</text>
<text class="tk" transform="translate(181.8 430.22)">0</text>
<text class="tk" transform="translate(181.8 406.3)">15</text>
<text class="yl" transform="translate(168.8,463.5) rotate(-90)">(r) SI sgl-sup time [%]</text>
<text class="st" x="211.1" y="417.9">**</text>
<text class="xt" x="197.1" y="533.6">T0</text>
<text class="xt" x="223" y="533.6">T1</text>
<line class="g" x1="261.3" y1="523.4" x2="313.6" y2="523.4"/>
<line class="g" x1="261.3" y1="503.45" x2="313.6" y2="503.45"/>
<line class="g" x1="261.3" y1="483.5" x2="313.6" y2="483.5"/>
<line class="g" x1="261.3" y1="463.55" x2="313.6" y2="463.55"/>
<line class="g" x1="261.3" y1="443.6" x2="313.6" y2="443.6"/>
<line class="g" x1="261.3" y1="423.65" x2="313.6" y2="423.65"/>
<line class="g" x1="261.3" y1="403.7" x2="313.6" y2="403.7"/>
<line class="w" x1="275.5" y1="489.68" x2="275.5" y2="408.49"/>
<line class="w" x1="275.5" y1="506.34" x2="275.5" y2="519.91"/>
<line class="w" x1="273.1" y1="408.49" x2="276.9" y2="408.49"/>
<line class="w" x1="273.1" y1="519.91" x2="276.9" y2="519.91"/>
<polygon class="r" points="268.57,506.34 268.57,507.24 271.79,503.05 268.57,497.76 268.57,489.68 281.43,489.68 281.43,497.76 278.21,503.05 281.43,507.24 281.43,506.34"/>
<line class="m" x1="271.79" y1="503.05" x2="278.21" y2="503.05"/>
<line class="w" x1="300.5" y1="497.76" x2="300.5" y2="466.84"/>
<line class="w" x1="300.5" y1="507.54" x2="300.5" y2="517.41"/>
<line class="w" x1="298.8" y1="466.84" x2="302.6" y2="466.84"/>
<line class="w" x1="298.8" y1="517.41" x2="302.6" y2="517.41"/>
<polygon class="c" points="294.27,507.54 294.27,507.84 297.49,502.65 294.27,497.46 294.27,497.76 307.12,497.76 307.12,497.46 303.91,502.65 307.12,507.84 307.12,507.54"/>
<line class="m" x1="297.49" y1="502.65" x2="303.91" y2="502.65"/>
<path class="ax" d="M261.5 403.7V523.4H313.6"/>
<line class="ax" x1="275.5" y1="523.4" x2="275.5" y2="526"/>
<line class="ax" x1="300.5" y1="523.4" x2="300.5" y2="526"/>
<text class="tk" transform="translate(259.7 526)">-20</text>
<text class="tk" transform="translate(259.7 506.05)">0</text>
<text class="tk" transform="translate(259.7 486.1)">20</text>
<text class="tk" transform="translate(259.7 466.15)">40</text>
<text class="tk" transform="translate(259.7 446.2)">60</text>
<text class="tk" transform="translate(259.7 426.25)">80</text>
<text class="tk" transform="translate(259.7 406.3)">100</text>
<text class="yl" transform="translate(246.3,463.55) rotate(-90)">(s) SI step length [%]</text>
<text class="xt" x="275" y="533.7">T0</text>
<text class="xt" x="300.7" y="533.7">T1</text>
<line class="g" x1="338.4" y1="524.4" x2="390.4" y2="524.4"/>
<line class="g" x1="338.4" y1="500.5" x2="390.4" y2="500.5"/>
<line class="g" x1="338.4" y1="476.6" x2="390.4" y2="476.6"/>
<line class="g" x1="338.4" y1="452.7" x2="390.4" y2="452.7"/>
<line class="g" x1="338.4" y1="428.8" x2="390.4" y2="428.8"/>
<line class="g" x1="338.4" y1="404.9" x2="390.4" y2="404.9"/>
<line class="w" x1="351.5" y1="428.2" x2="351.5" y2="417.57"/>
<line class="w" x1="351.5" y1="466.92" x2="351.5" y2="512.81"/>
<line class="w" x1="349.8" y1="417.57" x2="353.6" y2="417.57"/>
<line class="w" x1="349.8" y1="512.81" x2="353.6" y2="512.81"/>
<polygon class="r" points="345.27,466.92 345.27,452.7 348.49,443.26 345.27,433.22 345.27,428.2 358.12,428.2 358.12,433.22 354.91,443.26 358.12,452.7 358.12,466.92"/>
<line class="m" x1="348.49" y1="443.26" x2="354.91" y2="443.26"/>
<line class="w" x1="377.5" y1="428.56" x2="377.5" y2="423.54"/>
<line class="w" x1="377.5" y1="442.42" x2="377.5" y2="466.92"/>
<line class="w" x1="375.5" y1="423.54" x2="379.3" y2="423.54"/>
<line class="w" x1="375.5" y1="466.92" x2="379.3" y2="466.92"/>
<polygon class="c" points="370.97,442.42 370.97,438.36 374.19,434.54 370.97,430.71 370.97,428.56 383.82,428.56 383.82,430.71 380.61,434.54 383.82,438.36 383.82,442.42"/>
<line class="m" x1="374.19" y1="434.54" x2="380.61" y2="434.54"/>
<path class="ax" d="M338.5 404.9V524.4H390.4"/>
<line class="ax" x1="351.5" y1="524.4" x2="351.5" y2="527"/>
<line class="ax" x1="377.5" y1="524.4" x2="377.5" y2="527"/>
<text class="tk" transform="translate(336.8 527)">-80</text>
<text class="tk" transform="translate(336.8 503.1)">-60</text>
<text class="tk" transform="translate(336.8 479.2)">-40</text>
<text class="tk" transform="translate(336.8 455.3)">-20</text>
<text class="tk" transform="translate(336.8 431.4)">0</text>
<text class="tk" transform="translate(336.8 407.5)">20</text>
<text class="yl" transform="translate(323.8,464.65) rotate(-90)">(t) SI step cadence [%]</text>
<text class="st" x="366" y="427.2">**</text>
<text class="xt" x="351.7" y="534.7">T0</text>
<text class="xt" x="377.4" y="534.7">T1</text>
<text class="xl" x="207" y="543.9">Time post-onset: within 2 months (T0), 6 months (T1)</text>
</svg>
</body></html>
